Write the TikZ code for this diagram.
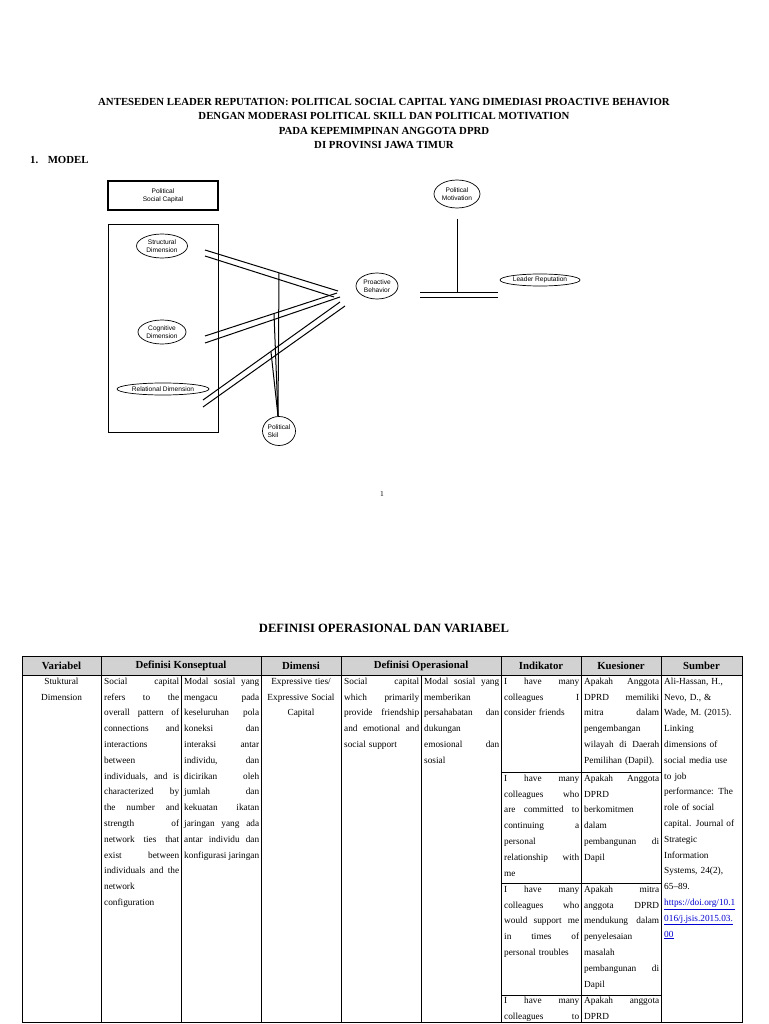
\documentclass[tikz,border=0pt]{standalone}
\usepackage{fontspec}
\setmainfont{Liberation Serif}
\newfontfamily\diag{Liberation Sans}
\usetikzlibrary{shapes.geometric}
\newcommand\cellfont{\fontsize{9.3}{15.8}\selectfont}
\newcommand\J[1]{\leavevmode\hbox to 75pt{\spaceskip=0.25em plus 20em minus 0.08em\xspaceskip=\spaceskip #1}}
\definecolor{hdrgray}{RGB}{210,210,210}
\definecolor{urlblue}{RGB}{0,0,210}
\tikzset{
  lbl/.style={font=\diag\fontsize{6.6}{7.6}\selectfont, align=center, inner sep=0pt},
  ell/.style={ellipse, draw, line width=0.7pt, lbl},
  conn/.style={line width=1pt},
  ttl/.style={font=\bfseries\fontsize{10.8}{13}\selectfont, inner sep=0pt},
  cell/.style={anchor=north west, inner sep=0pt, text width=75pt, align=left, font=\cellfont},
  ccell/.style={anchor=north, inner sep=0pt, text width=77pt, align=center, font=\cellfont},
  grid/.style={line width=0.9pt},
}
\begin{document}
\begin{tikzpicture}[x=1pt,y=-1pt]
\useasboundingbox (0,0) rectangle (768,1024);
\fill[white] (0,0) rectangle (768,1024);

% ---- title ----
\node[ttl] (t1) at (384,102) {ANTESEDEN LEADER REPUTATION: POLITICAL SOCIAL CAPITAL YANG DIMEDIASI PROACTIVE BEHAVIOR};
\node[ttl] (t2) at (384,116) {DENGAN MODERASI POLITICAL SKILL DAN POLITICAL MOTIVATION};
\node[ttl] (t3) at (384,130.5) {PADA KEPEMIMPINAN ANGGOTA DPRD};
\node[ttl] (t4) at (384,145) {DI PROVINSI JAWA TIMUR};
\node[ttl, anchor=west] (sec) at (30,160) {1.\hspace{9.5pt}MODEL};

% ---- diagram ----
\node[draw, line width=1.5pt, minimum width=110pt, minimum height=29pt, lbl] (psc) at (163,195.5) {Political\\Social Capital};
\node[draw, line width=0.8pt, minimum width=110pt, minimum height=208pt] (grp) at (163,328) {};
\node[ell, minimum width=51pt, minimum height=24pt] (sd) at (162,246) {Structural\\Dimension};
\node[ell, minimum width=48pt, minimum height=24pt] (cd) at (162,332) {Cognitive\\Dimension};
\node[ell, minimum width=92pt, minimum height=12pt] (rd) at (163,389) {Relational Dimension};
\node[ell, minimum width=33pt, minimum height=29pt, align=left] (ps) at (279,431) {Political\\Skil};
\node[ell, minimum width=42pt, minimum height=26pt] (pb) at (377,286) {Proactive\\Behavior};
\node[ell, minimum width=46pt, minimum height=28pt] (pm) at (457,194) {Political\\Motivation};
\node[ell, minimum width=80pt, minimum height=12pt] (lr) at (540,280) {Leader Reputation};

\coordinate (sa1) at (205,250); \coordinate (sa2) at (338,291);
\coordinate (sb1) at (205,256); \coordinate (sb2) at (334,297);
\coordinate (ca1) at (205,336); \coordinate (ca2) at (337,293);
\coordinate (cb1) at (205,343); \coordinate (cb2) at (340,297);
\coordinate (ra1) at (203,400); \coordinate (ra2) at (340,302);
\coordinate (rb1) at (203,407); \coordinate (rb2) at (345,306);
\coordinate (k0) at (278,416);
\coordinate (k1) at (279,273); \coordinate (k2) at (274,314); \coordinate (k3) at (271,352);
\coordinate (m1) at (457,219); \coordinate (m2) at (457,292);
\coordinate (d1) at (420,292); \coordinate (d2) at (498,292);
\coordinate (d3) at (420,297); \coordinate (d4) at (498,297);

\draw[conn] (sa1) -- (sa2); \draw[conn] (sb1) -- (sb2);
\draw[conn] (ca1) -- (ca2); \draw[conn] (cb1) -- (cb2);
\draw[conn] (ra1) -- (ra2); \draw[conn] (rb1) -- (rb2);
\draw[conn] (k0) -- (k1); \draw[conn] (k0) -- (k2); \draw[conn] (k0) -- (k3);
\draw[conn] (m1) -- (m2);
\draw[conn] (d1) -- (d2); \draw[conn] (d3) -- (d4);

\node[font=\fontsize{7.5}{9}\selectfont, inner sep=0pt] (pg) at (382,494) {1};

% ---- table ----
\node[font=\bfseries\fontsize{12.6}{15}\selectfont, inner sep=0pt] (tt) at (384,628) {DEFINISI OPERASIONAL DAN VARIABEL};

\fill[hdrgray] (22,656) rectangle (742,675);
\draw[grid] (22,656) rectangle (742,1022);
\draw[grid] (22,675) -- (742,675);
\foreach \x in {101,261,341,501,581,661} { \draw[grid] (\x,656) -- (\x,1022); }
\draw[grid] (181,675) -- (181,1022);
\draw[grid] (421,675) -- (421,1022);
\foreach \y in {772,883,995} { \draw[grid] (501,\y) -- (661,\y); }

\node[ttl] (h1) at (61.5,666) {Variabel};
\node[ttl] (h2) at (181,666) {Definisi Konseptual};
\node[ttl] (h3) at (301,666) {Dimensi};
\node[ttl] (h4) at (421,666) {Definisi Operasional};
\node[ttl] (h5) at (541,666) {Indikator};
\node[ttl] (h6) at (621,666) {Kuesioner};
\node[ttl] (h7) at (701.5,666) {Sumber};

\node[ccell] (c1) at (61.5,673) {\strut Stuktural\\Dimension};
\node[cell] (c2) at (104,673) {\strut\J{Social capital}\\\J{refers to the}\\\J{overall pattern of}\\\J{connections and}\\interactions\\between\\\J{individuals, and is}\\\J{characterized by}\\\J{the number and}\\\J{strength of}\\\J{network ties that}\\\J{exist between}\\\J{individuals and the}\\network\\configuration};
\node[cell] (c3) at (184,673) {\strut\J{Modal sosial yang}\\\J{mengacu pada}\\\J{keseluruhan pola}\\\J{koneksi dan}\\\J{interaksi antar}\\\J{individu, dan}\\\J{dicirikan oleh}\\\J{jumlah dan}\\\J{kekuatan ikatan}\\\J{jaringan yang ada}\\\J{antar individu dan}\\\J{konfigurasi jaringan}};
\node[ccell] (c4) at (301,673) {\strut Expressive ties/\\Expressive Social\\Capital};
\node[cell] (c5) at (344,673) {\strut\J{Social capital}\\\J{which primarily}\\\J{provide friendship}\\\J{and emotional and}\\social support};
\node[cell] (c6) at (424,673) {\strut\J{Modal sosial yang}\\memberikan\\\J{persahabatan dan}\\dukungan\\\J{emosional dan}\\sosial};

\node[cell] (i1) at (504,673) {\strut\J{I have many}\\\J{colleagues I}\\consider friends};
\node[cell] (i2) at (504,770) {\strut\J{I have many}\\\J{colleagues who}\\\J{are committed to}\\\J{continuing a}\\personal\\\J{relationship with}\\me};
\node[cell] (i3) at (504,881) {\strut\J{I have many}\\\J{colleagues who}\\\J{would support me}\\\J{in times of}\\personal troubles};
\node[cell] (i4) at (504,992.5) {\strut\J{I have many}\\\J{colleagues to}};

\node[cell] (q1) at (584,673) {\strut\J{Apakah Anggota}\\\J{DPRD memiliki}\\\J{mitra dalam}\\pengembangan\\\J{wilayah di Daerah}\\Pemilihan (Dapil).};
\node[cell] (q2) at (584,770) {\strut\J{Apakah Anggota}\\DPRD\\berkomitmen\\dalam\\\J{pembangunan di}\\Dapil};
\node[cell] (q3) at (584,881) {\strut\J{Apakah mitra}\\\J{anggota DPRD}\\\J{mendukung dalam}\\penyelesaian\\masalah\\\J{pembangunan di}\\Dapil};
\node[cell] (q4) at (584,992.5) {\strut\J{Apakah anggota}\\DPRD};

\node[cell, text width=76pt] (s1) at (664,673) {\strut Ali-Hassan, H.,\\Nevo, D., \&\\Wade, M. (2015).\\Linking\\dimensions of\\social media use\\to job\\performance: The\\role of social\\capital. Journal of\\Strategic\\Information\\Systems, 24(2),\\65–89.\\\textcolor{urlblue}{\underline{https://doi.org/10.1}}\\\textcolor{urlblue}{\underline{016/j.jsis.2015.03.}}\\\textcolor{urlblue}{\underline{00}}};
\end{tikzpicture}
\end{document}
